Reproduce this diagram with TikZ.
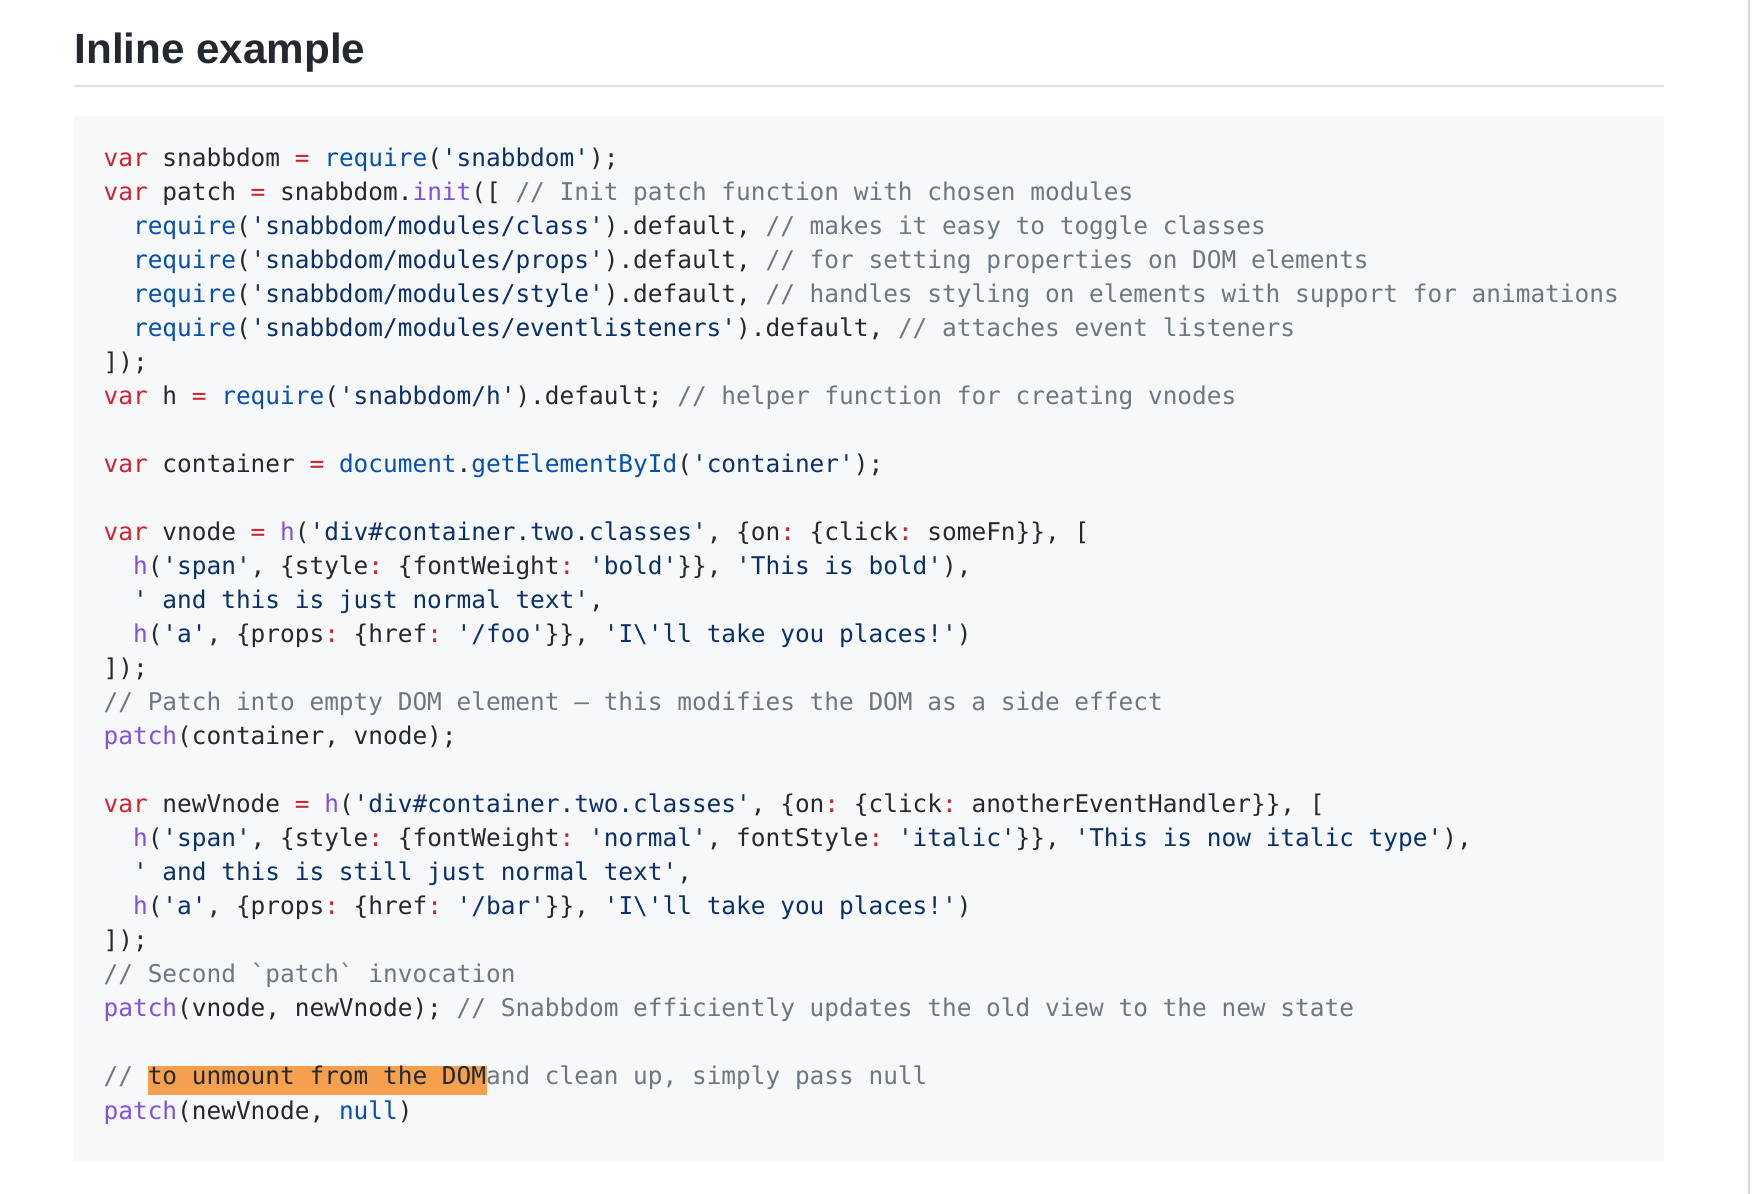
\documentclass[tikz,border=0pt]{standalone}
\usepackage{fontspec}
\setmainfont{Liberation Sans}
\setmonofont{DejaVu Sans Mono}
\definecolor{kred}{HTML}{CF222E}
\definecolor{kblue}{HTML}{0550AE}
\definecolor{kpur}{HTML}{8250DF}
\definecolor{kstr}{HTML}{0A3069}
\definecolor{kcm}{HTML}{6E7781}
\definecolor{ktxt}{HTML}{24292F}
\definecolor{kbg}{HTML}{F6F8FA}
\definecolor{khl}{HTML}{F4A04E}
\newcommand\kw[1]{\textcolor{kred}{#1}}
\newcommand\fn[1]{\textcolor{kblue}{#1}}
\newcommand\pu[1]{\textcolor{kpur}{#1}}
\newcommand\st[1]{\textcolor{kstr}{#1}}
\newcommand\cm[1]{\textcolor{kcm}{#1}}
\newcommand\bs{\textbackslash}
\newcommand\myCodeLine[3]{\node[codeline] (l#1) at (#2,{149+30.4*#1}) {#3};}
\begin{document}
\begin{tikzpicture}[x=0.011188cm,y=-0.011188cm,
  codeline/.style={anchor=base west,inner sep=0pt,text=ktxt,font=\ttfamily\fontsize{6.95}{8}\selectfont}]
\useasboundingbox (0,0) rectangle (1566,1067);
\fill[white] (0,0) rectangle (1566,1067);
\draw[color=black!15,line width=0.6pt] (1563,0) -- (1563,1067);
\node[anchor=base west,inner sep=0pt,text=ktxt,font=\bfseries\fontsize{12}{14}\selectfont] (title) at (66,57) {Inline example};
\draw[color=black!12,line width=0.6pt] (66,77) -- (1487,77);
\fill[kbg] (66,104) rectangle (1487,1038);
\fill[khl] (132,953) rectangle (435,979);
\def\X{92}\def\I{118.3}
\myCodeLine{0}{\X}{\kw{var} snabbdom \kw{=} \fn{require}(\st{'snabbdom'});}
\myCodeLine{1}{\X}{\kw{var} patch \kw{=} snabbdom.\pu{init}([ \cm{// Init patch function with chosen modules}}
\myCodeLine{2}{\I}{\fn{require}(\st{'snabbdom/modules/class'}).default, \cm{// makes it easy to toggle classes}}
\myCodeLine{3}{\I}{\fn{require}(\st{'snabbdom/modules/props'}).default, \cm{// for setting properties on DOM elements}}
\myCodeLine{4}{\I}{\fn{require}(\st{'snabbdom/modules/style'}).default, \cm{// handles styling on elements with support for animations}}
\myCodeLine{5}{\I}{\fn{require}(\st{'snabbdom/modules/eventlisteners'}).default, \cm{// attaches event listeners}}
\myCodeLine{6}{\X}{]);}
\myCodeLine{7}{\X}{\kw{var} h \kw{=} \fn{require}(\st{'snabbdom/h'}).default; \cm{// helper function for creating vnodes}}
\myCodeLine{9}{\X}{\kw{var} container \kw{=} \fn{document}.\fn{getElementById}(\st{'container'});}
\myCodeLine{11}{\X}{\kw{var} vnode \kw{=} \pu{h}(\st{'div\#container.two.classes'}, \{on\kw{:} \{click\kw{:} someFn\}\}, [}
\myCodeLine{12}{\I}{\pu{h}(\st{'span'}, \{style\kw{:} \{fontWeight\kw{:} \st{'bold'}\}\}, \st{'This is bold'}),}
\myCodeLine{13}{\I}{\st{' and this is just normal text'},}
\myCodeLine{14}{\I}{\pu{h}(\st{'a'}, \{props\kw{:} \{href\kw{:} \st{'/foo'}\}\}, \st{'I\bs'll take you places!'})}
\myCodeLine{15}{\X}{]);}
\myCodeLine{16}{\X}{\cm{// Patch into empty DOM element – this modifies the DOM as a side effect}}
\myCodeLine{17}{\X}{\pu{patch}(container, vnode);}
\myCodeLine{19}{\X}{\kw{var} newVnode \kw{=} \pu{h}(\st{'div\#container.two.classes'}, \{on\kw{:} \{click\kw{:} anotherEventHandler\}\}, [}
\myCodeLine{20}{\I}{\pu{h}(\st{'span'}, \{style\kw{:} \{fontWeight\kw{:} \st{'normal'}, fontStyle\kw{:} \st{'italic'}\}\}, \st{'This is now italic type'}),}
\myCodeLine{21}{\I}{\st{' and this is still just normal text'},}
\myCodeLine{22}{\I}{\pu{h}(\st{'a'}, \{props\kw{:} \{href\kw{:} \st{'/bar'}\}\}, \st{'I\bs'll take you places!'})}
\myCodeLine{23}{\X}{]);}
\myCodeLine{24}{\X}{\cm{// Second \symbol{96}patch\symbol{96} invocation}}
\myCodeLine{25}{\X}{\pu{patch}(vnode, newVnode); \cm{// Snabbdom efficiently updates the old view to the new state}}
\myCodeLine{27}{\X}{\cm{// }to unmount from the DOM\cm{ and clean up, simply pass null}}
\myCodeLine{28}{\X}{\pu{patch}(newVnode, \fn{null})}
\end{tikzpicture}
\end{document}
